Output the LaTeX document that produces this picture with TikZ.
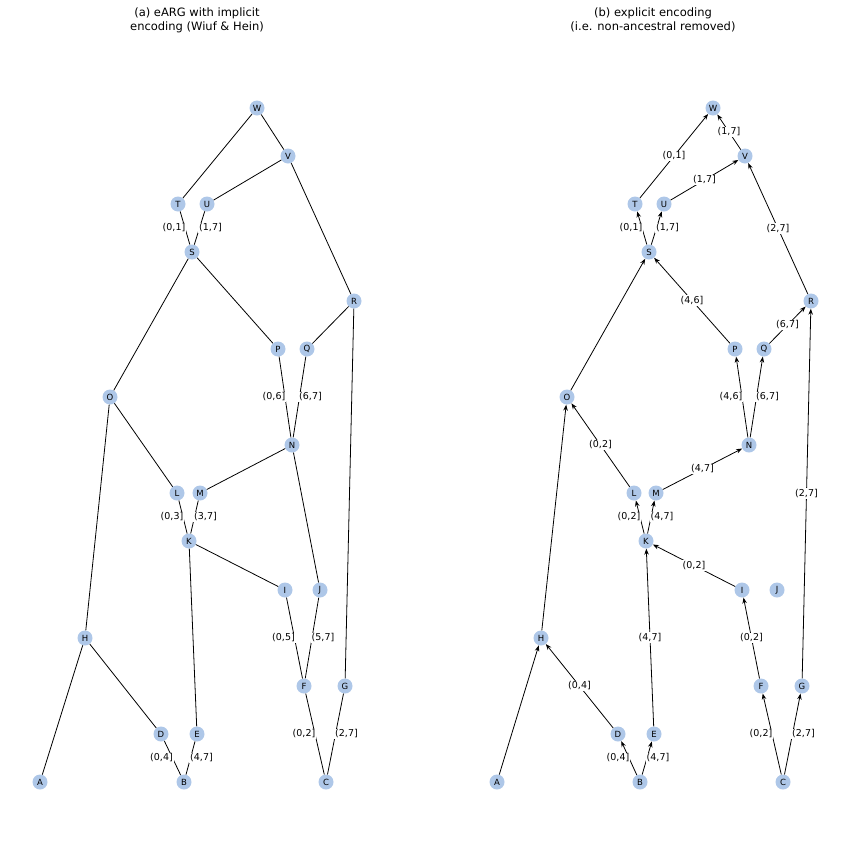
\documentclass[tikz,border=0pt]{standalone}
\usepackage{fontspec}
\setmainfont{DejaVu Sans}
\usetikzlibrary{arrows.meta}
\definecolor{nodeblue}{HTML}{AEC7E8}
\begin{document}
\begin{tikzpicture}[x=1pt,y=-1pt,
  vtx/.style={circle,fill=nodeblue,minimum size=15pt,inner sep=0pt,font=\fontsize{8.5}{10}\selectfont},
  lab/.style={midway,fill=white,inner sep=1pt,font=\fontsize{9.5}{12}\selectfont},
  labl/.style={lab,xshift=-11pt},
  labr/.style={lab,xshift=11pt},
  edge/.style={draw=black,line width=0.8pt},
  arr/.style={edge,-{Stealth[length=6pt,width=4.5pt]}},
  ttl/.style={align=center,font=\fontsize{11.5}{14}\selectfont}]
\useasboundingbox (0,0) rectangle (851,860);
\node[ttl] (ta) at (197,20) {(a) eARG with implicit\\encoding (Wiuf \& Hein)};
\node[ttl] (tb) at (653,20) {(b) explicit encoding\\(i.e. non-ancestral removed)};
% left panel
\foreach \n/\x/\y in {W/257/108,V/288/156,T/178/204,U/207/204,S/192/252,R/354/301,P/278/349,Q/307/349,O/110/397,N/292/445,L/177/493,M/200/493,K/189/541,I/285/590,J/320/590,H/85/638,F/304/686,G/345/686,D/161/734,E/197/734,A/40/782,B/184/782,C/326/782}
  \node[vtx] (a\n) at (\x,\y) {\n};
\draw[edge] (aW)--(aT); \draw[edge] (aW)--(aV); \draw[edge] (aV)--(aU); \draw[edge] (aV)--(aR);
\draw[edge] (aT)--(aS) node[labl]{(0,1]}; \draw[edge] (aU)--(aS) node[labr]{(1,7]};
\draw[edge] (aS)--(aO); \draw[edge] (aS)--(aP); \draw[edge] (aR)--(aQ); \draw[edge] (aR)--(aG);
\draw[edge] (aP)--(aN) node[labl]{(0,6]}; \draw[edge] (aQ)--(aN) node[labr]{(6,7]};
\draw[edge] (aO)--(aL); \draw[edge] (aO)--(aH); \draw[edge] (aN)--(aM); \draw[edge] (aN)--(aJ);
\draw[edge] (aL)--(aK) node[labl]{(0,3]}; \draw[edge] (aM)--(aK) node[labr]{(3,7]};
\draw[edge] (aK)--(aI); \draw[edge] (aK)--(aE);
\draw[edge] (aI)--(aF) node[labl]{(0,5]}; \draw[edge] (aJ)--(aF) node[labr]{(5,7]};
\draw[edge] (aH)--(aA); \draw[edge] (aH)--(aD);
\draw[edge] (aD)--(aB) node[labl]{(0,4]}; \draw[edge] (aE)--(aB) node[labr]{(4,7]};
\draw[edge] (aF)--(aC) node[labl]{(0,2]}; \draw[edge] (aG)--(aC) node[labr]{(2,7]};
% right panel
\foreach \n/\x/\y in {W/713/108,V/745/156,T/635/204,U/664/204,S/649/252,R/811/301,P/735/349,Q/764/349,O/567/397,N/749/445,L/634/493,M/656/493,K/646/541,I/742/590,J/777/590,H/541/638,F/761/686,G/802/686,D/618/734,E/654/734,A/497/782,B/640/782,C/783/782}
  \node[vtx] (b\n) at (\x,\y) {\n};
\draw[arr] (bT)--(bW) node[lab]{(0,1]}; \draw[arr] (bV)--(bW) node[lab]{(1,7]};
\draw[arr] (bU)--(bV) node[lab]{(1,7]}; \draw[arr] (bR)--(bV) node[lab]{(2,7]};
\draw[arr] (bS)--(bT) node[labl]{(0,1]}; \draw[arr] (bS)--(bU) node[labr]{(1,7]};
\draw[arr] (bP)--(bS) node[lab]{(4,6]}; \draw[arr] (bO)--(bS);
\draw[arr] (bQ)--(bR) node[lab]{(6,7]};
\draw[arr] (bN)--(bP) node[labl]{(4,6]}; \draw[arr] (bN)--(bQ) node[labr]{(6,7]};
\draw[arr] (bL)--(bO) node[lab]{(0,2]}; \draw[arr] (bM)--(bN) node[lab]{(4,7]};
\draw[arr] (bK)--(bL) node[labl]{(0,2]}; \draw[arr] (bK)--(bM) node[labr]{(4,7]};
\draw[arr] (bI)--(bK) node[lab]{(0,2]}; \draw[arr] (bH)--(bO);
\draw[arr] (bE)--(bK) node[lab]{(4,7]}; \draw[arr] (bF)--(bI) node[lab]{(0,2]};
\draw[arr] (bG)--(bR) node[lab]{(2,7]}; \draw[arr] (bA)--(bH);
\draw[arr] (bD)--(bH) node[lab]{(0,4]};
\draw[arr] (bB)--(bD) node[labl]{(0,4]}; \draw[arr] (bB)--(bE) node[labr]{(4,7]};
\draw[arr] (bC)--(bF) node[labl]{(0,2]}; \draw[arr] (bC)--(bG) node[labr]{(2,7]};
\end{tikzpicture}
\end{document}
